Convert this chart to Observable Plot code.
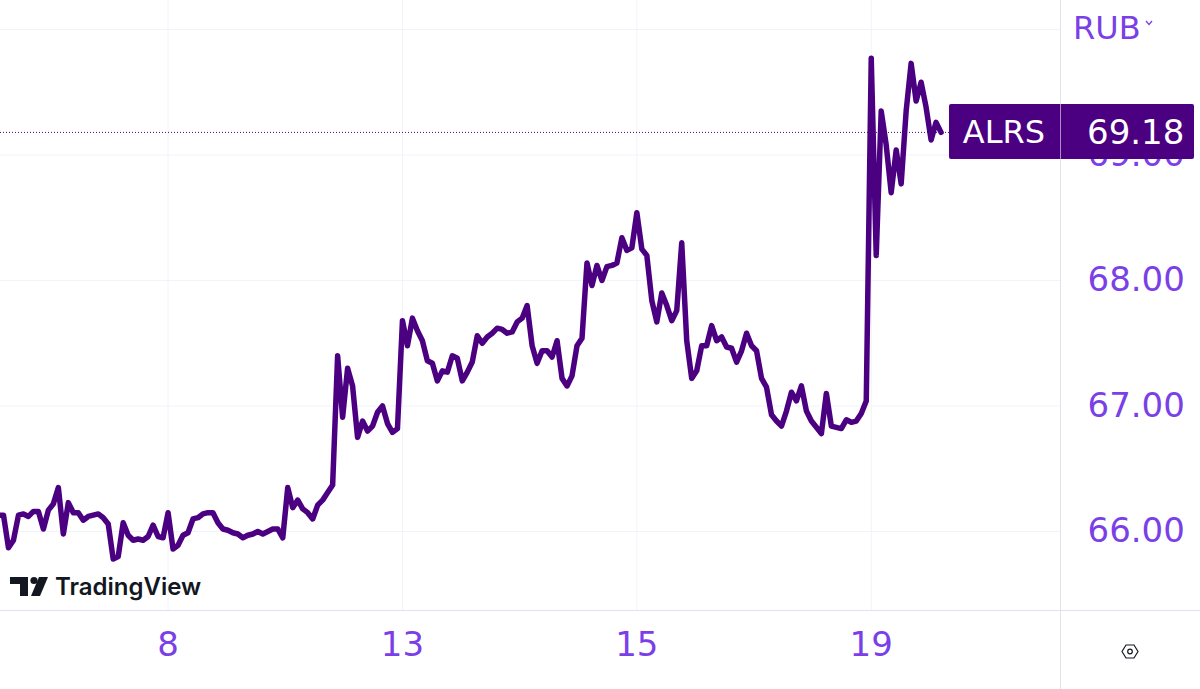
<!DOCTYPE html>
<html>
<head>
<meta charset="utf-8">
<script src="https://cdn.jsdelivr.net/npm/d3@7"></script>
<script src="https://cdn.jsdelivr.net/npm/@observablehq/plot@0.6"></script>
<style>
  html, body { margin: 0; padding: 0; background: #ffffff; }
  #chart { width: 1200px; height: 689px; position: relative; }
</style>
</head>
<body>
<div id="chart"></div>
<script>
// ---- data ----
const symbol = "ALRS";
const currency = "RUB";
const lastPrice = 69.18;
const tickBars = [34, 81, 128, 175];
const tickLabels = ["8", "13", "15", "19"];
const priceTicks = [66, 67, 68, 69];
const gridPrices = [66, 67, 68, 69, 70];
const prices = [
  66.13, 66.13, 65.87, 65.93, 66.13, 66.14, 66.12, 66.16, 66.16, 66.02,
  66.17, 66.22, 66.35, 65.98, 66.23, 66.15, 66.15, 66.09, 66.12, 66.13,
  66.14, 66.11, 66.06, 65.78, 65.80, 66.07, 65.97, 65.93, 65.94, 65.93,
  65.96, 66.05, 65.96, 65.95, 66.15, 65.86, 65.89, 65.97, 65.99, 66.10,
  66.11, 66.14, 66.15, 66.15, 66.07, 66.02, 66.01, 65.99, 65.98, 65.95,
  65.97, 65.98, 66.00, 65.98, 66.00, 66.02, 66.02, 65.95, 66.35, 66.19,
  66.25, 66.18, 66.15, 66.10, 66.21, 66.25, 66.31, 66.37, 67.40, 66.91,
  67.30, 67.16, 66.75, 66.88, 66.80, 66.84, 66.95, 67.00, 66.86, 66.79,
  66.82, 67.68, 67.48, 67.70, 67.60, 67.52, 67.36, 67.34, 67.20, 67.28,
  67.27, 67.40, 67.38, 67.20, 67.27, 67.35, 67.56, 67.50, 67.55, 67.58,
  67.62, 67.61, 67.58, 67.59, 67.67, 67.70, 67.80, 67.48, 67.34, 67.44,
  67.44, 67.39, 67.52, 67.22, 67.16, 67.24, 67.48, 67.54, 68.14, 67.96,
  68.12, 68.00, 68.11, 68.12, 68.14, 68.34, 68.24, 68.26, 68.54, 68.25,
  68.20, 67.84, 67.67, 67.90, 67.80, 67.68, 67.76, 68.30, 67.52, 67.22,
  67.28, 67.48, 67.48, 67.64, 67.52, 67.55, 67.47, 67.46, 67.35, 67.44,
  67.58, 67.48, 67.44, 67.22, 67.15, 66.93, 66.88, 66.84, 66.96, 67.11,
  67.04, 67.16, 66.96, 66.88, 66.83, 66.78, 67.10, 66.84, 66.83, 66.82,
  66.89, 66.87, 66.88, 66.94, 67.04, 69.77, 68.20, 69.35, 69.08, 68.70,
  69.04, 68.77, 69.35, 69.73, 69.43, 69.58, 69.38, 69.12, 69.26, 69.18
];

// ---- styling ----
const lineColor = "#4b0082";
const axisColor = "#7b3fe8";
const chromeColor = "#e0e3eb";
const gridColor = "#f0f3fa";
const fontFamily = "DejaVu Sans";

const data = prices.map((p, i) => ({bar: i, price: p}));

const plot = Plot.plot({
  width: 1200,
  height: 689,
  marginTop: 0,
  marginLeft: 0,
  marginRight: 140,
  marginBottom: 78,
  style: {fontFamily, background: "#ffffff", overflow: "visible"},
  x: {domain: [0.4, 212.95]},
  y: {domain: [65.3625, 70.231]},
  marks: [
    Plot.gridX(tickBars, {stroke: gridColor, strokeOpacity: 1, strokeWidth: 1}),
    Plot.gridY(gridPrices, {stroke: gridColor, strokeOpacity: 1, strokeWidth: 1}),
    Plot.ruleY([lastPrice], {stroke: lineColor, strokeWidth: 1, strokeDasharray: "1,2"}),
    Plot.line(data, {x: "bar", y: "price", stroke: lineColor, strokeWidth: 5.5,
      strokeLinejoin: "round", strokeLinecap: "round"}),
    Plot.axisY(priceTicks, {anchor: "right", tickSize: 0, tickPadding: 27,
      tickFormat: d => d.toFixed(2), fontSize: 34, fill: axisColor, label: null}),
    Plot.axisX(tickBars, {anchor: "bottom", tickSize: 0, tickPadding: 20,
      tickFormat: d => tickLabels[tickBars.indexOf(d)], fontSize: 34, fill: axisColor, label: null})
  ]
});

document.getElementById("chart").appendChild(plot);

// ---- chart chrome (TradingView style) ----
const svg = d3.select(plot);
const yy = plot.scale("y").apply(lastPrice);

svg.append("line").attr("x1", 1060.5).attr("x2", 1060.5).attr("y1", 0).attr("y2", 689)
  .attr("stroke", chromeColor).attr("stroke-width", 1);
svg.append("line").attr("x1", 0).attr("x2", 1200).attr("y1", 610.5).attr("y2", 610.5)
  .attr("stroke", chromeColor).attr("stroke-width", 1);

// price label box
const box = svg.append("g");
box.append("rect").attr("x", 949).attr("y", yy - 28).attr("width", 245).attr("height", 55)
  .attr("rx", 2).attr("fill", lineColor);
box.append("line").attr("x1", 1060.5).attr("x2", 1060.5).attr("y1", yy - 28).attr("y2", yy + 27)
  .attr("stroke", "rgba(255,255,255,0.55)").attr("stroke-width", 1);
box.append("text").attr("x", 1004).attr("y", yy).attr("dy", "0.36em")
  .attr("text-anchor", "middle").attr("fill", "#ffffff")
  .attr("font-family", fontFamily).attr("font-size", 32).text(symbol);
box.append("text").attr("x", 1087).attr("y", yy).attr("dy", "0.36em")
  .attr("text-anchor", "start").attr("fill", "#ffffff")
  .attr("font-family", fontFamily).attr("font-size", 34).text(lastPrice.toFixed(2));

// currency label
svg.append("text").attr("x", 1073).attr("y", 39).attr("fill", axisColor)
  .attr("text-anchor", "start")
  .attr("font-family", fontFamily).attr("font-size", 32).text(currency);
svg.append("polyline").attr("points", "1146,21 1149,24.5 1152,21")
  .attr("fill", "none").attr("stroke", axisColor).attr("stroke-width", 1.3);

// TradingView logo
const logo = svg.append("g").attr("fill", "#131722");
logo.append("rect").attr("x", 10).attr("y", 577).attr("width", 18).attr("height", 7);
logo.append("rect").attr("x", 20).attr("y", 577).attr("width", 8).attr("height", 19);
logo.append("circle").attr("cx", 34).attr("cy", 580.5).attr("r", 3.6);
logo.append("polygon").attr("points", "39,577 48,577 40,596 31,596");
logo.append("text").attr("x", 55).attr("y", 595).attr("text-anchor", "start")
  .attr("font-family", "Inter").attr("font-weight", 600).attr("font-size", 24).text("TradingView");

// settings icon
const gear = svg.append("g").attr("fill", "none").attr("stroke", "#131722").attr("stroke-width", 1.2);
gear.append("polygon").attr("points", "1126,645 1134,645 1138,651.5 1134,658 1126,658 1122,651.5");
gear.append("circle").attr("cx", 1130).attr("cy", 651.5).attr("r", 2.3);
</script>
</body>
</html>
